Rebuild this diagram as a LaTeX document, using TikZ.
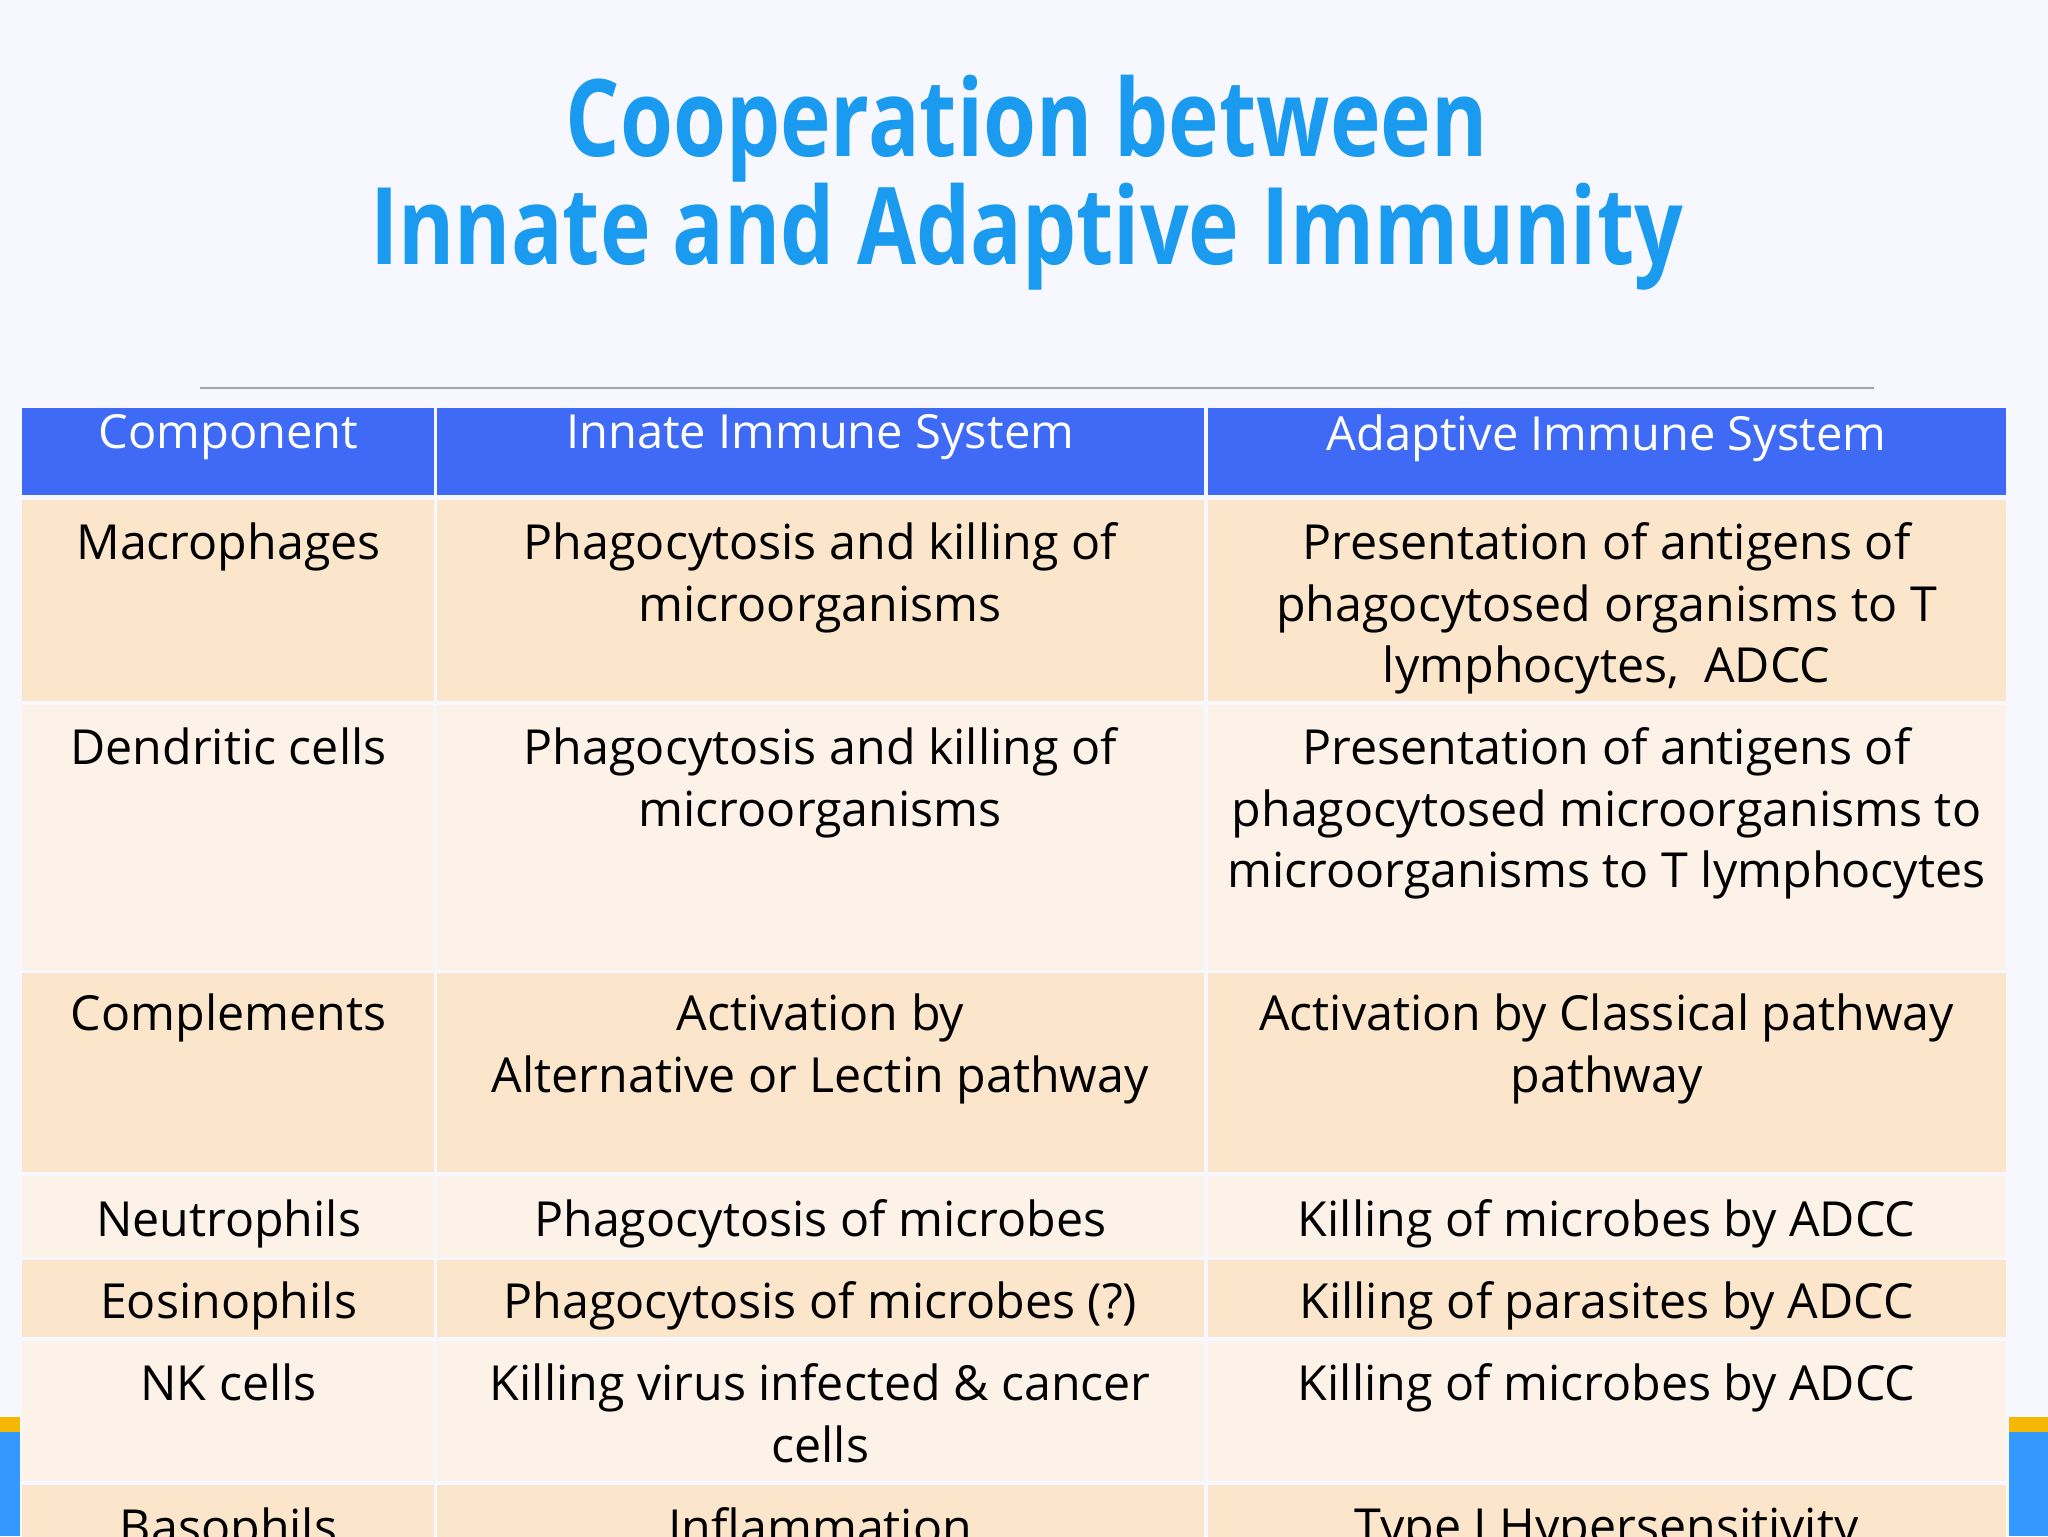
\documentclass[tikz,border=0pt]{standalone}
\usepackage{fontspec}
\setmainfont{Open Sans}
\definecolor{ttl}{HTML}{1A9BF0}
\definecolor{hdr}{HTML}{3F6AF5}
\definecolor{rowa}{HTML}{FCE6CB}
\definecolor{rowb}{HTML}{FDF2E7}
\definecolor{bar}{HTML}{3399FF}
\definecolor{ylw}{HTML}{F5B800}
\tikzset{
 cell/.style={anchor=north,align=center,inner sep=0pt,font=\fontsize{37}{47}\selectfont},
 hcell/.style={anchor=north,align=center,inner sep=0pt,text=white,font=\fontsize{36}{45}\selectfont},
}
\begin{document}
\begin{tikzpicture}[x=1pt,y=-1pt]
\useasboundingbox (0,0) rectangle (1568,1176);
\fill[white!97!blue] (0,0) rectangle (1568,1176);
\node[text=ttl,align=center,xscale=0.8,font=\bfseries\fontsize{82}{80}\selectfont] (title) at (786,140) {Cooperation between\\Innate and Adaptive Immunity};
\draw[gray!70,line width=1.2pt] (153,297) -- (1435,297);
% side bars
\fill[ylw] (0,1085) rectangle (15,1176); \fill[bar] (0,1096) rectangle (15,1176);
\fill[ylw] (1538,1085) rectangle (1568,1176); \fill[bar] (1538,1096) rectangle (1568,1176);
% header
\fill[hdr] (17,312) rectangle (332,379);
\fill[hdr] (334.5,312) rectangle (922,379);
\fill[hdr] (924.5,312) rectangle (1536,379);
\node[hcell] (h1) at (175,317) {Component};
\node[hcell] (h2) at (628,317) {Innate Immune System};
\node[hcell] (h3) at (1230,317) {Adaptive Immune System};
% rows
\foreach \t/\b/\c in {383/537/rowa,540/743/rowb,745/897/rowa,900/962/rowb,965/1024/rowa,1027/1134/rowb,1137/1200/rowa}{
 \fill[\c] (17,\t) rectangle (332,\b);
 \fill[\c] (334.5,\t) rectangle (922,\b);
 \fill[\c] (924.5,\t) rectangle (1536,\b);
}
\node[cell] (m1) at (175,400) {Macrophages};
\node[cell] (m2) at (628,400) {Phagocytosis and killing of\\microorganisms};
\node[cell] (m3) at (1230,400) {Presentation of antigens of\\phagocytosed organisms to T\\lymphocytes,\ \ ADCC};
\node[cell] (d1) at (175,557) {Dendritic cells};
\node[cell] (d2) at (628,557) {Phagocytosis and killing of\\microorganisms};
\node[cell] (d3) at (1230,557) {Presentation of antigens of\\phagocytosed microorganisms to\\microorganisms to T lymphocytes};
\node[cell] (c1) at (175,761) {Complements};
\node[cell] (c2) at (628,761) {Activation by\\Alternative or Lectin pathway};
\node[cell] (c3) at (1230,761) {Activation by Classical pathway\\pathway};
\node[cell] (n1) at (175,918) {Neutrophils};
\node[cell] (n2) at (628,918) {Phagocytosis of microbes};
\node[cell] (n3) at (1230,918) {Killing of microbes by ADCC};
\node[cell] (e1) at (175,981) {Eosinophils};
\node[cell] (e2) at (628,981) {Phagocytosis of microbes (?)};
\node[cell] (e3) at (1230,981) {Killing of parasites by ADCC};
\node[cell] (k1) at (175,1044) {NK cells};
\node[cell] (k2) at (628,1044) {Killing virus infected \& cancer\\cells};
\node[cell] (k3) at (1230,1044) {Killing of microbes by ADCC};
\node[cell] (b1) at (175,1154) {Basophils};
\node[cell] (b2) at (628,1154) {Inflammation};
\node[cell] (b3) at (1230,1154) {Type I Hypersensitivity};
\end{tikzpicture}
\end{document}
